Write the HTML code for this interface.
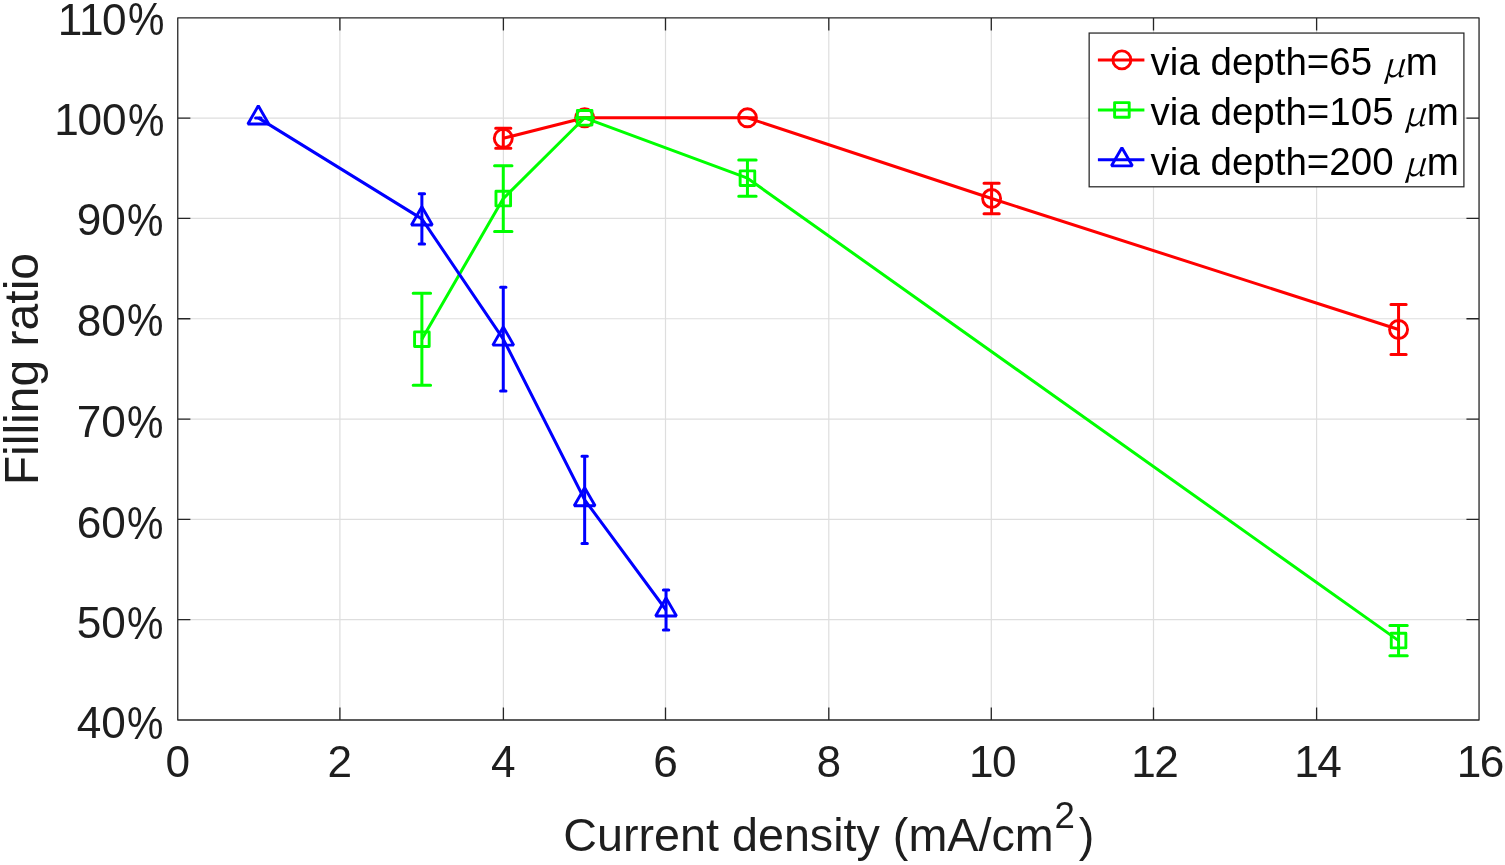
<!DOCTYPE html>
<html><head><meta charset="utf-8"><title>Filling ratio vs current density</title>
<style>html,body{margin:0;padding:0;background:#fff;}svg{display:block;}</style>
</head><body>
<svg width="1505" height="865" viewBox="0 0 1505 865">
<rect x="0" y="0" width="1505" height="865" fill="#ffffff"/>
<path d="M339.9 17.8V720M503.4 17.8V720M665.5 17.8V720M828.8 17.8V720M991.3 17.8V720M1153.5 17.8V720M1316.6 17.8V720M177.76 619.69H1479.05M177.76 519.37H1479.05M177.76 419.06H1479.05M177.76 318.74H1479.05M177.76 218.43H1479.05M177.76 118.11H1479.05" stroke="#dedede" stroke-width="1.2" fill="none"/>
<path d="M503.27 138.3L584.66 117.8L747.44 117.8L991.61 198.5L1398.56 329.5" fill="none" stroke="#ff0000" stroke-width="3.0" stroke-linejoin="round"/>
<path d="M503.27 128.25V148.35M991.61 183.3V213.7M1398.56 304.5V354.5" fill="none" stroke="#ff0000" stroke-width="3.0"/>
<path d="M495.67 128.25H510.87M495.67 148.35H510.87M577.06 117.8H592.26M577.06 117.8H592.26M739.84 117.8H755.04M739.84 117.8H755.04M984.01 183.3H999.21M984.01 213.7H999.21M1390.96 304.5H1406.16M1390.96 354.5H1406.16" fill="none" stroke="#ff0000" stroke-width="3.0" stroke-linecap="round"/>
<circle cx="503.27" cy="138.3" r="9.0" fill="none" stroke="#ff0000" stroke-width="2.9"/>
<circle cx="584.66" cy="117.8" r="9.0" fill="none" stroke="#ff0000" stroke-width="2.9"/>
<circle cx="747.44" cy="117.8" r="9.0" fill="none" stroke="#ff0000" stroke-width="2.9"/>
<circle cx="991.61" cy="198.5" r="9.0" fill="none" stroke="#ff0000" stroke-width="2.9"/>
<circle cx="1398.56" cy="329.5" r="9.0" fill="none" stroke="#ff0000" stroke-width="2.9"/>
<path d="M421.88 339.2L503.27 198.6L584.66 117.8L747.44 178.2L1398.56 640.6" fill="none" stroke="#00ff00" stroke-width="3.0" stroke-linejoin="round"/>
<path d="M421.88 293.15V385.25M503.27 165.75V231.45M747.44 160.05V196.35M1398.56 625.5V655.7" fill="none" stroke="#00ff00" stroke-width="3.0"/>
<path d="M413.18 293.15H430.58M413.18 385.25H430.58M494.57 165.75H511.97M494.57 231.45H511.97M575.96 117.8H593.36M575.96 117.8H593.36M738.74 160.05H756.14M738.74 196.35H756.14M1389.86 625.5H1407.26M1389.86 655.7H1407.26" fill="none" stroke="#00ff00" stroke-width="3.0" stroke-linecap="round"/>
<rect x="414.58" y="331.9" width="14.6" height="14.6" fill="none" stroke="#00ff00" stroke-width="2.9" stroke-linejoin="round"/>
<rect x="495.97" y="191.3" width="14.6" height="14.6" fill="none" stroke="#00ff00" stroke-width="2.9" stroke-linejoin="round"/>
<rect x="577.36" y="110.5" width="14.6" height="14.6" fill="none" stroke="#00ff00" stroke-width="2.9" stroke-linejoin="round"/>
<rect x="740.14" y="170.9" width="14.6" height="14.6" fill="none" stroke="#00ff00" stroke-width="2.9" stroke-linejoin="round"/>
<rect x="1391.26" y="633.3" width="14.6" height="14.6" fill="none" stroke="#00ff00" stroke-width="2.9" stroke-linejoin="round"/>
<path d="M258.3 117.9L421.88 218.9L503.27 339.1L584.66 499.8L666.05 610" fill="none" stroke="#0000ff" stroke-width="3.0" stroke-linejoin="round"/>
<path d="M421.88 193.85V243.95M503.27 287.3V390.9M584.66 456.15V543.45M666.05 590.1V629.9" fill="none" stroke="#0000ff" stroke-width="3.0"/>
<path d="M255.6 117.9H261M255.6 117.9H261M419.18 193.85H424.58M419.18 243.95H424.58M500.57 287.3H505.97M500.57 390.9H505.97M581.96 456.15H587.36M581.96 543.45H587.36M663.35 590.1H668.75M663.35 629.9H668.75" fill="none" stroke="#0000ff" stroke-width="3.0" stroke-linecap="round"/>
<path d="M258.3 105.85L268.74 123.93L247.86 123.93Z" fill="none" stroke="#0000ff" stroke-width="2.9" stroke-linejoin="bevel"/>
<path d="M421.88 206.85L432.32 224.93L411.44 224.93Z" fill="none" stroke="#0000ff" stroke-width="2.9" stroke-linejoin="bevel"/>
<path d="M503.27 327.05L513.71 345.12L492.83 345.12Z" fill="none" stroke="#0000ff" stroke-width="2.9" stroke-linejoin="bevel"/>
<path d="M584.66 487.75L595.1 505.82L574.22 505.82Z" fill="none" stroke="#0000ff" stroke-width="2.9" stroke-linejoin="bevel"/>
<path d="M666.05 597.95L676.49 616.02L655.61 616.02Z" fill="none" stroke="#0000ff" stroke-width="2.9" stroke-linejoin="bevel"/>
<path d="M177.76 17.8H1479.05V720H177.76ZM339.9 720v-12.6M339.9 17.8v12.6M503.4 720v-12.6M503.4 17.8v12.6M665.5 720v-12.6M665.5 17.8v12.6M828.8 720v-12.6M828.8 17.8v12.6M991.3 720v-12.6M991.3 17.8v12.6M1153.5 720v-12.6M1153.5 17.8v12.6M1316.6 720v-12.6M1316.6 17.8v12.6M177.76 619.69h12.6M1479.05 619.69h-12.6M177.76 519.37h12.6M1479.05 519.37h-12.6M177.76 419.06h12.6M1479.05 419.06h-12.6M177.76 318.74h12.6M1479.05 318.74h-12.6M177.76 218.43h12.6M1479.05 218.43h-12.6M177.76 118.11h12.6M1479.05 118.11h-12.6" fill="none" stroke="#262626" stroke-width="1.3" stroke-linejoin="round"/>
<g font-family="&quot;Liberation Sans&quot;, Arial, Helvetica, sans-serif" font-size="44.2" fill="#1e1e1e">
<text x="177.76" y="776.9" text-anchor="middle">0</text>
<text x="339.9" y="776.9" text-anchor="middle">2</text>
<text x="503.4" y="776.9" text-anchor="middle">4</text>
<text x="665.5" y="776.9" text-anchor="middle">6</text>
<text x="828.8" y="776.9" text-anchor="middle">8</text>
<text x="991.3" y="776.9" text-anchor="middle" dx="1.5 -1.5">10</text>
<text x="1153.5" y="776.9" text-anchor="middle" dx="1.5 -1.5">12</text>
<text x="1316.6" y="776.9" text-anchor="middle" dx="1.5 -1.5">14</text>
<text x="1479.05" y="776.9" text-anchor="middle" dx="1.5 -1.5">16</text>
<text x="125.9" y="738.4" text-anchor="end">40</text>
<text transform="translate(127.1 739.2) scale(0.927 1.055)">%</text>
<text x="125.9" y="638.09" text-anchor="end">50</text>
<text transform="translate(127.1 638.89) scale(0.927 1.055)">%</text>
<text x="125.9" y="537.87" text-anchor="end">60</text>
<text transform="translate(127.1 538.67) scale(0.927 1.055)">%</text>
<text x="125.9" y="436.96" text-anchor="end">70</text>
<text transform="translate(127.1 437.76) scale(0.927 1.055)">%</text>
<text x="125.9" y="335.54" text-anchor="end">80</text>
<text transform="translate(127.1 336.34) scale(0.927 1.055)">%</text>
<text x="125.9" y="235.33" text-anchor="end">90</text>
<text transform="translate(127.1 236.13) scale(0.927 1.055)">%</text>
<text x="125.1" y="134.91" text-anchor="end" dx="1.5 -1.5">100</text>
<text transform="translate(127.94 135.71) scale(0.927 1.055)">%</text>
<text x="125.1" y="34.6" text-anchor="end" dx="1.5 0 -1.5">110</text>
<text transform="translate(127.94 35.4) scale(0.927 1.055)">%</text>
</g>
<text x="563.3" y="851" font-family="&quot;Liberation Sans&quot;, Arial, Helvetica, sans-serif" font-size="46.7" fill="#1e1e1e">Current density (mA/cm<tspan font-size="36.7" dx="0.8" dy="-22.9">2</tspan><tspan dx="4.0" dy="22.9">)</tspan></text>
<text transform="translate(38.1 369.1) rotate(-90)" x="0" y="0" text-anchor="middle" font-family="&quot;Liberation Sans&quot;, Arial, Helvetica, sans-serif" font-size="48.07" fill="#1e1e1e">Filling ratio</text>
<rect x="1089.15" y="33.05" width="374.75" height="153.75" fill="#ffffff" stroke="#262626" stroke-width="1.25"/>
<path d="M1097.9 59.9H1144.4" stroke="#ff0000" stroke-width="3.0"/>
<circle cx="1121.9" cy="59.9" r="9.0" fill="none" stroke="#ff0000" stroke-width="2.9"/>
<text x="1150.6" y="75.2" font-family="&quot;Liberation Sans&quot;, Arial, Helvetica, sans-serif" font-size="38.5" fill="#000000">via depth=65 </text>
<text transform="translate(1382.3 76.9) scale(1.04 1)" font-family="&quot;Noto Serif CJK SC&quot;, &quot;Liberation Serif&quot;, serif" font-weight="400" font-style="italic" font-size="34.3" fill="#000000">μ</text>
<text x="1405.84" y="75.2" font-family="&quot;Liberation Sans&quot;, Arial, Helvetica, sans-serif" font-size="38.5" fill="#000000">m</text>
<path d="M1097.9 109.9H1144.4" stroke="#00ff00" stroke-width="3.0"/>
<rect x="1114.6" y="102.6" width="14.6" height="14.6" fill="none" stroke="#00ff00" stroke-width="2.9" stroke-linejoin="round"/>
<text x="1150.6" y="124.5" font-family="&quot;Liberation Sans&quot;, Arial, Helvetica, sans-serif" font-size="38.5" fill="#000000">via depth=105 </text>
<text transform="translate(1403.3 126.2) scale(1.04 1)" font-family="&quot;Noto Serif CJK SC&quot;, &quot;Liberation Serif&quot;, serif" font-weight="400" font-style="italic" font-size="34.3" fill="#000000">μ</text>
<text x="1426.84" y="124.5" font-family="&quot;Liberation Sans&quot;, Arial, Helvetica, sans-serif" font-size="38.5" fill="#000000">m</text>
<path d="M1097.9 159.8H1144.4" stroke="#0000ff" stroke-width="3.0"/>
<path d="M1121.9 147.75L1132.34 165.83L1111.46 165.83Z" fill="none" stroke="#0000ff" stroke-width="2.9" stroke-linejoin="bevel"/>
<text x="1150.6" y="174.5" font-family="&quot;Liberation Sans&quot;, Arial, Helvetica, sans-serif" font-size="38.5" fill="#000000">via depth=200 </text>
<text transform="translate(1403.3 176.2) scale(1.04 1)" font-family="&quot;Noto Serif CJK SC&quot;, &quot;Liberation Serif&quot;, serif" font-weight="400" font-style="italic" font-size="34.3" fill="#000000">μ</text>
<text x="1426.84" y="174.5" font-family="&quot;Liberation Sans&quot;, Arial, Helvetica, sans-serif" font-size="38.5" fill="#000000">m</text>
</svg>
</body></html>
